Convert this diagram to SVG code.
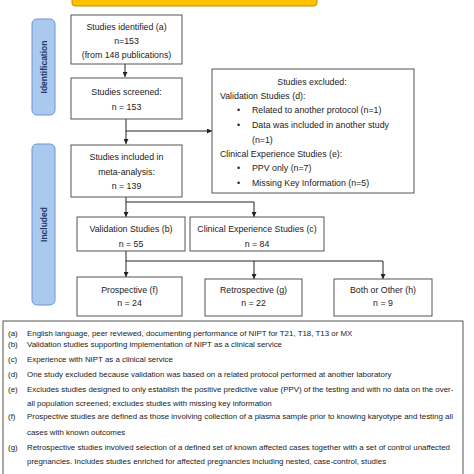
<svg xmlns="http://www.w3.org/2000/svg" width="474" height="474" viewBox="0 0 474 474">
<defs>
<style>
.box{fill:#fff;stroke:#555;stroke-width:1}
.side{fill:#a9c9ef;stroke:#6f92d2;stroke-width:1}
.t{font-family:"Liberation Sans",Arial,sans-serif;font-size:8.8px;fill:#222}
.c{text-anchor:middle}
.st{font-family:"Liberation Sans",Arial,sans-serif;font-size:8.5px;font-weight:bold;fill:#1f3864;text-anchor:middle}
.n{font-family:"Liberation Sans",Arial,sans-serif;font-size:7.9px;fill:#222}
.ln{fill:none;stroke:#222;stroke-width:1}
</style>
<marker id="ah" viewBox="0 0 8 8" refX="8" refY="4" markerWidth="5" markerHeight="5" orient="auto" markerUnits="userSpaceOnUse">
<path d="M0,0 L8,4 L0,8 z" fill="#222"/>
</marker>
</defs>
<rect x="0" y="0" width="474" height="474" fill="#fff"/>

<g id="header">
<rect x="72" y="-12" width="245" height="18" rx="3" fill="#ffc000" stroke="#c09000" stroke-width="1"/>
</g>

<g id="side-identification">
<rect class="side" x="32" y="19" width="23" height="96" rx="5"/>
<text class="st" transform="translate(46.5,67) rotate(-90)">Identification</text>
</g>
<g id="side-included">
<rect class="side" x="32" y="144" width="23" height="161" rx="5"/>
<text class="st" transform="translate(46.5,224.5) rotate(-90)">Included</text>
</g>

<g id="connectors">
<path class="ln" d="M125,64 V77" marker-end="url(#ah)"/>
<path class="ln" d="M126,119 V144" marker-end="url(#ah)"/>
<path class="ln" d="M126,131 H212" marker-end="url(#ah)"/>
<path class="ln" d="M126,197 V217" marker-end="url(#ah)"/>
<path class="ln" d="M126,202 H254 V217" marker-end="url(#ah)"/>
<path class="ln" d="M126,251 V277" marker-end="url(#ah)"/>
<path class="ln" d="M126,261 H383 V279" marker-end="url(#ah)"/>
<path class="ln" d="M254,261 V279" marker-end="url(#ah)"/>
</g>

<g id="identified">
<rect class="box" x="71" y="15" width="111" height="49"/>
<text class="t c" x="126.5" y="30">Studies identified (a)</text>
<text class="t c" x="126.5" y="44">n=153</text>
<text class="t c" x="126.5" y="58">(from 148 publications)</text>
</g>

<g id="screened">
<rect class="box" x="71" y="78" width="111" height="41"/>
<text class="t c" x="126.5" y="95">Studies screened:</text>
<text class="t c" x="126.5" y="110">n = 153</text>
</g>

<g id="excluded">
<rect class="box" x="212" y="69" width="202" height="124"/>
<text class="t c" x="312" y="85">Studies excluded:</text>
<text class="t" x="220" y="99">Validation Studies (d):</text>
<text class="t" x="237" y="113">•</text>
<text class="t" x="252" y="113">Related to another protocol (n=1)</text>
<text class="t" x="237" y="128">•</text>
<text class="t" x="252" y="128">Data was included in another study</text>
<text class="t" x="252" y="143">(n=1)</text>
<text class="t" x="220" y="157">Clinical Experience Studies (e):</text>
<text class="t" x="237" y="171">•</text>
<text class="t" x="252" y="171">PPV only (n=7)</text>
<text class="t" x="237" y="186">•</text>
<text class="t" x="252" y="186">Missing Key Information (n=5)</text>
</g>

<g id="included">
<rect class="box" x="71" y="145" width="111" height="52"/>
<text class="t c" x="126.5" y="160">Studies included in</text>
<text class="t c" x="126.5" y="175">meta-analysis:</text>
<text class="t c" x="126.5" y="189">n = 139</text>
</g>

<g id="validation">
<rect class="box" x="77" y="217" width="108" height="34"/>
<text class="t c" x="131" y="232">Validation Studies (b)</text>
<text class="t c" x="131" y="247">n = 55</text>
</g>

<g id="clinical">
<rect class="box" x="190" y="217" width="134" height="34"/>
<text class="t c" x="257" y="232">Clinical Experience Studies (c)</text>
<text class="t c" x="257" y="247">n = 84</text>
</g>

<g id="prospective">
<rect class="box" x="77" y="277" width="105" height="39"/>
<text class="t c" x="129.5" y="293">Prospective (f)</text>
<text class="t c" x="129.5" y="306">n = 24</text>
</g>

<g id="retrospective">
<rect class="box" x="205" y="279" width="97" height="37"/>
<text class="t c" x="253.5" y="293">Retrospective (g)</text>
<text class="t c" x="253.5" y="306">n = 22</text>
</g>

<g id="both">
<rect class="box" x="334" y="279" width="98" height="37"/>
<text class="t c" x="383" y="293">Both or Other (h)</text>
<text class="t c" x="383" y="306">n = 9</text>
</g>

<g id="notes">
<rect class="box" x="3" y="321" width="460" height="170"/>
<text class="n" x="8" y="336">(a)</text>
<text class="n" x="27" y="336">English language, peer reviewed, documenting performance of NIPT for T21, T18, T13 or MX</text>
<text class="n" x="8" y="347">(b)</text>
<text class="n" x="27" y="347">Validation studies supporting implementation of NIPT as a clinical service</text>
<text class="n" x="8" y="362">(c)</text>
<text class="n" x="27" y="362">Experience with NIPT as a clinical service</text>
<text class="n" x="8" y="377">(d)</text>
<text class="n" x="27" y="377">One study excluded because validation was based on a related protocol performed at another laboratory</text>
<text class="n" x="8" y="392">(e)</text>
<text class="n" x="27" y="392">Excludes studies designed to only establish the positive predictive value (PPV) of the testing and with no data on the over-</text>
<text class="n" x="27" y="406">all population screened; excludes studies with missing key information</text>
<text class="n" x="8" y="419">(f)</text>
<text class="n" x="27" y="419">Prospective studies are defined as those involving collection of a plasma sample prior to knowing karyotype and testing all</text>
<text class="n" x="27" y="435">cases with known outcomes</text>
<text class="n" x="8" y="450">(g)</text>
<text class="n" x="27" y="450">Retrospective studies involved selection of a defined set of known affected cases together with a set of control unaffected</text>
<text class="n" x="27" y="464">pregnancies. Includes studies enriched for affected pregnancies including nested, case-control, studies</text>
</g>
</svg>
